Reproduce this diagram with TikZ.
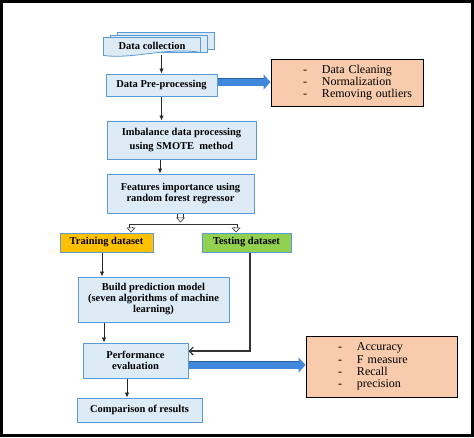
\documentclass[tikz,border=0pt]{standalone}
\usepackage{fontspec}
\setmainfont{Liberation Serif}
\usetikzlibrary{arrows.meta, backgrounds}

\definecolor{boxblue}{HTML}{DDEBF7}
\definecolor{lineblue}{HTML}{5B9BD5}
\definecolor{peach}{HTML}{F8CBAD}
\definecolor{trainorange}{HTML}{FFC000}
\definecolor{testgreen}{HTML}{92D050}
\definecolor{arrowblue}{HTML}{3F88DB}
\definecolor{arrowedge}{HTML}{2A5F9E}

\tikzset{
  stepbox/.style={draw=lineblue, fill=boxblue, line width=1pt, align=center, inner sep=0pt,
    font=\fontsize{10.5}{11}\selectfont\bfseries},
  listbox/.style={draw=black, fill=peach, line width=1pt, align=left, inner xsep=6pt, inner ysep=0pt,
    font=\fontsize{12}{12.3}\selectfont},
  link/.style={draw=black!85, line width=0.8pt, -{Latex[length=5pt, width=4.5pt]}},
  backlink/.style={draw=black!80, line width=1.1pt, -{Straight Barb[length=4pt, width=8pt]}},
  fatedge/.style={draw=arrowedge, line width=8.4pt},
  fatlink/.style={draw=arrowblue, line width=7pt, -{Triangle[length=7pt, width=15pt]}},
  hollowlink/.style={draw=black!80, double=white, double distance=2pt, line width=0.6pt,
    -{Triangle[open, fill=white, length=5pt, width=9pt]}},
}
\newcommand{\dashitem}[1]{\hspace*{26pt}\makebox[19pt][l]{-}#1}

\begin{document}
\begin{tikzpicture}[x=1pt, y=-1pt]
            \useasboundingbox (0,0) rectangle (474,437);
            \draw[line width=3pt] (1.5,1.5) rectangle (472.5,435.5);

            % Nodes
            \node[stepbox, draw=none, fill=none, minimum width=96pt, minimum height=16pt] (collect) at (152,46) {Data collection};
            \node[stepbox, minimum width=111pt, minimum height=22pt] (prep) at (161.5,85) {Data Pre-processing};
            \node[listbox, text width=140pt, minimum height=47pt] (clean) at (347,82.5)
                {\dashitem{Data Cleaning}\\\dashitem{Normalization}\\\dashitem{Removing outliers}};
            \node[stepbox, minimum width=149pt, minimum height=38pt, font=\fontsize{10.5}{13.5}\selectfont\bfseries] (smote) at (181.5,140)
                {Imbalance data processing\\using SMOTE~ method};
            \node[stepbox, minimum width=147pt, minimum height=39pt] (feat) at (180.5,193.5)
                {Features importance using\\random forest regressor};
            \node[stepbox, fill=trainorange, minimum width=93pt, minimum height=19pt] (train) at (106.5,242.5) {Training dataset};
            \node[stepbox, fill=testgreen, minimum width=89pt, minimum height=19pt] (test) at (246.5,242.5) {Testing dataset};
            \node[stepbox, minimum width=151pt, minimum height=45pt] (build) at (153.5,299.5)
                {Build prediction model\\(seven algorithms of machine\\learning)};
            \node[stepbox, minimum width=105pt, minimum height=35pt] (perf) at (135.5,360.5) {Performance\\evaluation};
            \node[listbox, text width=139pt, minimum height=61pt] (metric) at (381.5,366.5)
                {\dashitem{Accuracy}\\\dashitem{F measure}\\\dashitem{Recall}\\\dashitem{precision}\\[2pt]};
            \node[stepbox, minimum width=125pt, minimum height=24pt] (compare) at (139.5,410) {Comparison of results};

            % Stacked pages behind the first step
            \begin{scope}[on background layer]
                \foreach \dx/\dy in {14/5, 7/2.5}
                    \draw[draw=lineblue, fill=boxblue, line width=0.8pt]
                        ([xshift=\dx pt, yshift=\dy pt]collect.north west) rectangle ([xshift=\dx pt, yshift=\dy pt]collect.south east);
                \draw[draw=lineblue, fill=boxblue, line width=0.8pt]
                    (collect.north west) -- (collect.north east) -- ([yshift=2pt]collect.south east)
                    .. controls +(-30,-6) and +(30,4) .. ([yshift=-1pt]collect.south west) -- cycle;
            \end{scope}

            % Edges
            \draw[link] (prep.north |- collect.south) -- (prep.north);
            \draw[link] (prep.south) -- (prep.south |- smote.north);
            \draw[link] ([xshift=-21.5pt]smote.south) -- ([xshift=-21.5pt]smote.south |- feat.north);
            \draw[fatedge] ([yshift=3pt]prep.east) -- ([yshift=3pt,xshift=-6pt]prep.east -| clean.west);
            \draw[fatlink] ([yshift=3pt]prep.east) -- ([yshift=3pt]prep.east -| clean.west);

            \coordinate (split) at ([yshift=-12pt]feat.south);
            \draw[hollowlink, double distance=5pt] (feat.south) -- ([yshift=3pt]split);
            \draw[hollowlink] (split) -| ([xshift=24.5pt]train.north);
            \draw[hollowlink] (split) -| ([xshift=-10.5pt]test.north);

            \draw[link] ([xshift=-4.5pt]train.south) -- ([xshift=-4.5pt]train.south |- build.north);
            \draw[backlink] ([xshift=3.5pt]test.south) |- ([yshift=9.5pt]perf.east);
            \draw[link] ([xshift=-49.5pt]build.south) -- ([xshift=-49.5pt]build.south |- perf.north);
            \draw[fatedge] ([yshift=-4.5pt]perf.east) -- ([yshift=-4.5pt,xshift=-6pt]perf.east -| metric.west);
            \draw[fatlink] ([yshift=-4.5pt]perf.east) -- ([yshift=-4.5pt]perf.east -| metric.west);
            \draw[link] ([xshift=-8.5pt]perf.south) -- ([xshift=-8.5pt]perf.south |- compare.north);
        \end{tikzpicture}
\end{document}
